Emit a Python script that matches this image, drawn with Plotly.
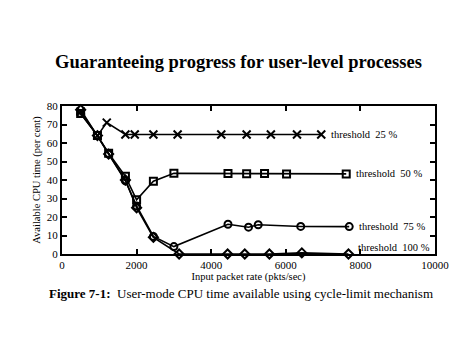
import plotly.graph_objects as go

x25 = [500, 950, 1200, 1700, 1950, 2450, 3100, 4270, 4950, 5600, 6300, 6950]
y25 = [77, 64, 71, 64.6, 64.6, 64.6, 64.6, 64.6, 64.6, 64.6, 64.6, 64.6]
x50 = [500, 950, 1250, 1700, 2000, 2450, 3000, 4450, 4950, 5430, 6020, 7620]
y50 = [76, 64, 54.5, 42, 29.3, 39.3, 43.6, 43.5, 43.4, 43.5, 43.3, 43.3]
x75 = [500, 950, 1250, 1700, 2000, 2450, 3000, 4450, 5000, 5260, 6400, 7700]
y75 = [76, 64, 54, 39.5, 26, 9.5, 4, 16.1, 14.5, 15.8, 14.9, 14.8]
x100 = [500, 950, 1250, 1700, 2000, 2450, 3140, 4440, 4900, 5560, 6430, 7680]
y100 = [78, 64, 54, 40, 25, 9, 0, 0, 0, 0, 0.6, 0]
x_ticks = [0, 2000, 4000, 6000, 8000, 10000]
x_tick_text = ["0", "2000", "4000", "6000", "8000", "10000"]
y_ticks = [0, 10, 20, 30, 40, 50, 60, 70, 80]
labels = ["threshold  25 %", "threshold  50 %", "threshold  75 %", "threshold  100 %"]
label_x = [7160, 7830, 7900, 7880]
label_y = [64.6, 43.3, 14.9, 3.6]

series = [(x25, y25, "x-thin-open"), (x50, y50, "square-open"),
          (x75, y75, "circle-open"), (x100, y100, "diamond-open")]

FONT = "Liberation Serif, Times New Roman, serif"
fig = go.Figure()
for (xs, ys, sym), name in zip(series, labels):
    fig.add_trace(go.Scatter(
        x=xs, y=ys, mode="lines+markers", name=name,
        line=dict(color="black", width=1.6),
        marker=dict(symbol=sym, size=7 if sym != "x-thin-open" else 8,
                    color="black", line=dict(color="black", width=2)),
        cliponaxis=False,
    ))

for t, lx, ly in zip(labels, label_x, label_y):
    fig.add_annotation(x=lx, y=ly, xref="x", yref="y", text=t, showarrow=False,
                       xanchor="left", yanchor="middle",
                       font=dict(family=FONT, size=10.5, color="black"))

fig.add_annotation(xref="paper", yref="paper", x=0.472, y=1.30,
                   text="<b>Guaranteeing progress for user-level processes</b>",
                   showarrow=False, xanchor="center", yanchor="middle",
                   font=dict(family=FONT, size=18.5, color="black"))
fig.add_annotation(xref="paper", yref="paper", x=0.48, y=-0.27,
                   text="<b>Figure 7-1:</b>  User-mode CPU time available using cycle-limit mechanism",
                   showarrow=False, xanchor="center", yanchor="middle",
                   font=dict(family=FONT, size=13, color="black"))

fig.update_layout(
    width=466, height=347,
    margin=dict(l=54, r=39, t=98, b=101),
    paper_bgcolor="white", plot_bgcolor="white",
    showlegend=False,
    font=dict(family=FONT, size=11, color="black"),
    xaxis=dict(range=[0, 10000], tickvals=x_ticks, ticktext=x_tick_text,
               ticks="inside", ticklen=5, tickwidth=1.5, tickcolor="black",
               showline=True, linecolor="black", linewidth=2, mirror="ticks",
               showgrid=False, zeroline=False, automargin=False,
               title=dict(text="Input packet rate (pkts/sec)", standoff=0,
                          font=dict(family=FONT, size=10.5))),
    yaxis=dict(range=[0, 80], tickvals=y_ticks,
               ticks="inside", ticklen=5, tickwidth=1.5, tickcolor="black",
               showline=True, linecolor="black", linewidth=2, mirror="ticks",
               showgrid=False, zeroline=False, automargin=False,
               title=dict(text="Available CPU time (per cent)", standoff=4,
                          font=dict(family=FONT, size=10.5))),
)
fig.write_html("out.html")
